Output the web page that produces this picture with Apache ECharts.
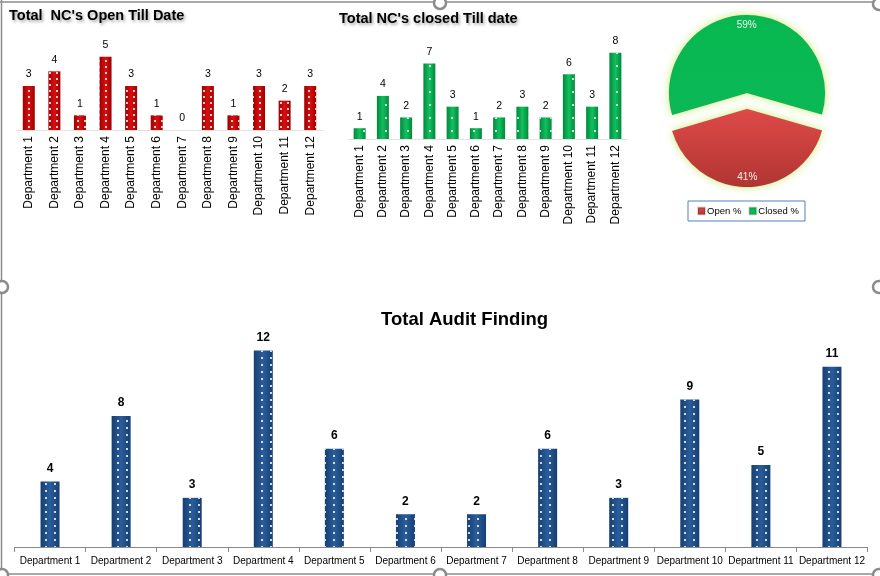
<!DOCTYPE html>
<html>
<head>
<meta charset="utf-8">
<script src="https://cdn.jsdelivr.net/npm/echarts@6/dist/echarts.min.js"></script>
<style>html,body{margin:0;padding:0;background:#fff}#c{width:880px;height:576px}</style>
</head>
<body>
<div id="c"></div>
<script>
// ---- data ----
const departments = ['Department 1','Department 2','Department 3','Department 4','Department 5','Department 6','Department 7','Department 8','Department 9','Department 10','Department 11','Department 12'];
const openNC = [3,4,1,5,3,1,0,3,1,3,2,3];
const closedNC = [1,4,2,7,3,1,2,3,2,6,3,8];
const auditFinding = [4,8,3,12,6,2,2,6,3,9,5,11];
const pieNames = ['Open %','Closed %'];
const pieValues = [41,59];

const titleOpen = "Total  NC's Open Till Date";
const titleClosed = "Total NC's closed Till date";
const titleAudit = 'Total Audit Finding';

const FONT = 'Liberation Sans';

function hGrad(c1, c2) {
  return new echarts.graphic.LinearGradient(0,0,1,0,[
    {offset:0,color:c1},{offset:0.5,color:c2},{offset:1,color:c1}
  ]);
}
function dots(w, gx, gy) {
  return {symbol:'rect', symbolSize:1, color:'rgba(255,255,255,0.8)',
          dashArrayX:[w, gx], dashArrayY:[w, gy], rotation:0};
}

const chart = echarts.init(document.getElementById('c'), null, {renderer:'canvas'});

const titleShadow = {textShadowColor:'rgba(0,0,0,0.35)', textShadowBlur:3, textShadowOffsetX:1.5, textShadowOffsetY:2};

const option = {
  animation:false,
  backgroundColor:'#fff',
  title:[
    {text:titleOpen, left:4, top:3, textStyle:Object.assign({fontFamily:FONT, fontSize:14.5, fontWeight:'bold', color:'#000'}, titleShadow)},
    {text:titleClosed, left:334, top:6, textStyle:Object.assign({fontFamily:FONT, fontSize:14.5, fontWeight:'bold', color:'#000'}, titleShadow)},
    {text:titleAudit, left:376, top:305, textStyle:{fontFamily:FONT, fontSize:18.5, fontWeight:'bold', color:'#000'}}
  ],
  legend:{
    data:pieNames, left:688, top:201, orient:'horizontal',
    borderColor:'#4f81bd', borderWidth:1, padding:[5,6,5,9],
    itemWidth:7, itemHeight:7, itemGap:7, icon:'rect',
    textStyle:{fontFamily:FONT, fontSize:9.5, color:'#000', padding:[0,0,0,-3]}
  },
  grid:[
    {left:16, right:557, top:42, bottom:446},
    {left:348, right:253, top:42, bottom:437},
    {left:14.5, right:12.5, top:334, bottom:29}
  ],
  xAxis:[
    {type:'category', gridIndex:0, data:departments,
     axisLine:{lineStyle:{color:'#e3e3e3'}}, axisTick:{show:false},
     axisLabel:{rotate:90, interval:0, fontFamily:FONT, fontSize:12, color:'#000', margin:6}},
    {type:'category', gridIndex:1, data:departments,
     axisLine:{lineStyle:{color:'#e3e3e3'}}, axisTick:{show:false},
     axisLabel:{rotate:90, interval:0, fontFamily:FONT, fontSize:12, color:'#000', margin:6}},
    {type:'category', gridIndex:2, data:departments,
     axisLine:{lineStyle:{color:'#8a8a8a'}}, axisTick:{show:true, length:5, lineStyle:{color:'#8a8a8a'}},
     axisLabel:{interval:0, fontFamily:FONT, fontSize:10, color:'#000', margin:9}}
  ],
  yAxis:[
    {type:'value', gridIndex:0, min:0, max:6, show:false, splitLine:{show:false}},
    {type:'value', gridIndex:1, min:0, max:9, show:false, splitLine:{show:false}},
    {type:'value', gridIndex:2, min:0, max:13, show:false, splitLine:{show:false}}
  ],
  series:[
    {type:'bar', xAxisIndex:0, yAxisIndex:0, data:openNC, barWidth:12,
     itemStyle:{color:hGrad('#9e0000','#d81010'), decal:dots(1.5,4.5,4)},
     label:{show:true, position:'top', distance:6, fontFamily:FONT, fontSize:10.5, color:'#000'}},
    {type:'bar', xAxisIndex:1, yAxisIndex:1, data:closedNC, barWidth:12,
     itemStyle:{color:hGrad('#008a3a','#12c060'), decal:dots(1.5,9,11)},
     label:{show:true, position:'top', distance:6, fontFamily:FONT, fontSize:10.5, color:'#000'}},
    {type:'bar', xAxisIndex:2, yAxisIndex:2, data:auditFinding, barWidth:19,
     itemStyle:{color:hGrad('#163f72','#2a5d9b'), decal:dots(1.5,6.5,5)},
     label:{show:true, position:'top', distance:7, fontFamily:FONT, fontSize:12, fontWeight:'bold', color:'#000'}},
    {type:'pie', center:[747,101], radius:[0,78], startAngle:-16, clockwise:true,
     selectedMode:'multiple', selectedOffset:8, avoidLabelOverlap:false,
     emphasis:{disabled:true},
     itemStyle:{shadowColor:'rgba(200,235,110,0.95)', shadowBlur:9, borderColor:'rgba(0,0,0,0.15)', borderWidth:0.5},
     label:{show:false}, labelLine:{show:false},
     data:pieNames.map((n,i)=>({name:n, value:pieValues[i], selected:true,
       itemStyle:{color: i===0
         ? new echarts.graphic.LinearGradient(0,0,0,1,[{offset:0,color:'#de4a48'},{offset:1,color:'#b13533'}])
         : new echarts.graphic.LinearGradient(0,0,0,1,[{offset:0,color:'#07b84f'},{offset:1,color:'#0bb857'}])}}))},
    {type:'pie', center:[747,101], radius:[52,78], startAngle:-16, clockwise:true,
     selectedMode:'multiple', selectedOffset:8, silent:true, legendHoverLink:false,
     itemStyle:{color:'rgba(0,0,0,0)'},
     label:{show:true, position:'inside', formatter:'{c}%', fontFamily:FONT, fontSize:10, color:'#eef5ee'},
     labelLine:{show:false},
     data:pieNames.map((n,i)=>({name:n, value:pieValues[i], selected:true}))}
  ],
  graphic:[
    {type:'line', shape:{x1:0,y1:2,x2:873,y2:2}, style:{stroke:'#8c8c8c', lineWidth:1.5}, silent:true},
    {type:'line', shape:{x1:1.5,y1:0,x2:1.5,y2:576}, style:{stroke:'#8c8c8c', lineWidth:1.5}, silent:true},
    {type:'line', shape:{x1:0,y1:574,x2:880,y2:574}, style:{stroke:'#8c8c8c', lineWidth:1.5}, silent:true},
    {type:'circle', shape:{cx:440,cy:3,r:6}, style:{fill:'#fff', stroke:'#8c8c8c', lineWidth:2.5}, silent:true},
    {type:'circle', shape:{cx:879,cy:4,r:6}, style:{fill:'#fff', stroke:'#8c8c8c', lineWidth:2.5}, silent:true},
    {type:'circle', shape:{cx:2,cy:287,r:6}, style:{fill:'#fff', stroke:'#8c8c8c', lineWidth:2.5}, silent:true},
    {type:'circle', shape:{cx:879,cy:287,r:6}, style:{fill:'#fff', stroke:'#8c8c8c', lineWidth:2.5}, silent:true},
    {type:'circle', shape:{cx:2,cy:575,r:6}, style:{fill:'#fff', stroke:'#8c8c8c', lineWidth:2.5}, silent:true},
    {type:'circle', shape:{cx:440,cy:575,r:6}, style:{fill:'#fff', stroke:'#8c8c8c', lineWidth:2.5}, silent:true},
    {type:'circle', shape:{cx:879,cy:575,r:6}, style:{fill:'#fff', stroke:'#8c8c8c', lineWidth:2.5}, silent:true}
  ]
};
chart.setOption(option);
</script>
</body>
</html>
